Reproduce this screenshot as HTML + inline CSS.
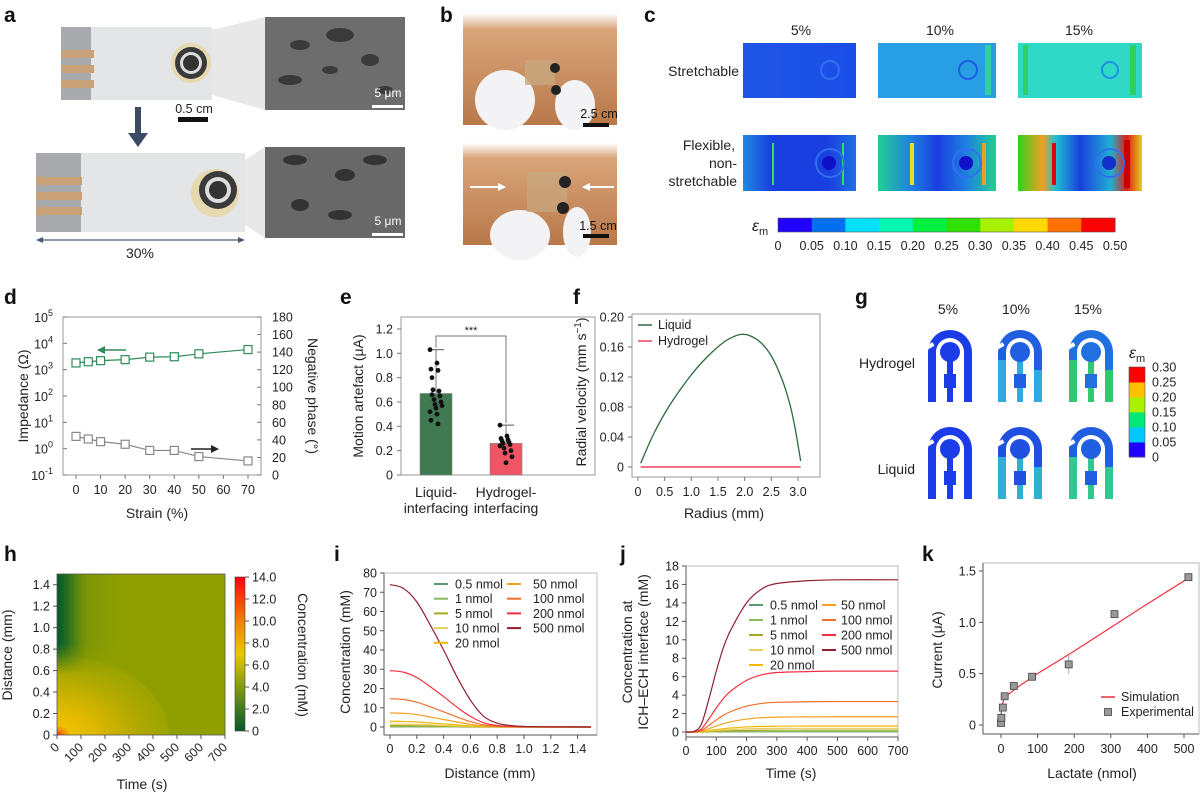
<!DOCTYPE html>
<html><head><meta charset="utf-8"><style>
html,body{margin:0;padding:0;background:#fff}
svg{display:block;font-family:"Liberation Sans",sans-serif}
.t{font-size:12.5px;fill:#222}
.at{font-size:14px;fill:#222}
.pl{font-size:21px;font-weight:bold;fill:#111}
</style></head><body>
<svg id="fig" width="1200" height="795" viewBox="0 0 1200 795" xmlns="http://www.w3.org/2000/svg">
<defs>
<linearGradient id="skin" x1="0" y1="0" x2="0" y2="1"><stop offset="0" stop-color="#fff"/><stop offset="0.15" stop-color="#d9a57a"/><stop offset="1" stop-color="#b8784a"/></linearGradient>
<linearGradient id="stretch1" x1="0" x2="1"><stop offset="0" stop-color="#1f55e6"/><stop offset="1" stop-color="#1a4ee8"/></linearGradient>
<linearGradient id="flex1" x1="0" x2="1"><stop offset="0" stop-color="#1f8ae0"/><stop offset="0.25" stop-color="#1a3fe0"/><stop offset="0.75" stop-color="#1a3fe0"/><stop offset="1" stop-color="#2070e0"/></linearGradient>
<linearGradient id="flex2" x1="0" x2="1"><stop offset="0" stop-color="#20d090"/><stop offset="0.28" stop-color="#2080e0"/><stop offset="0.5" stop-color="#1a3fe0"/><stop offset="0.75" stop-color="#2080e0"/><stop offset="1" stop-color="#20d090"/></linearGradient>
<linearGradient id="flex3" x1="0" x2="1"><stop offset="0" stop-color="#30d020"/><stop offset="0.2" stop-color="#f0a020"/><stop offset="0.3" stop-color="#20c0d0"/><stop offset="0.5" stop-color="#1a40e0"/><stop offset="0.75" stop-color="#20b0d0"/><stop offset="0.88" stop-color="#e02010"/><stop offset="1" stop-color="#e0d020"/></linearGradient>
<linearGradient id="hgreen" x1="0" x2="1"><stop offset="0" stop-color="#005a2a"/><stop offset="0.15" stop-color="#2a7020"/><stop offset="0.4" stop-color="#6e9008" stop-opacity="0.6"/><stop offset="1" stop-color="#8f9f00" stop-opacity="0"/></linearGradient>
<linearGradient id="hgreenv" x1="0" y1="0" x2="0" y2="1"><stop offset="0" stop-color="#fff" stop-opacity="1"/><stop offset="0.7" stop-color="#fff" stop-opacity="1"/><stop offset="1" stop-color="#fff" stop-opacity="0"/></linearGradient>
<mask id="hmask"><rect x="57" y="574" width="80" height="100" fill="url(#hgreenv)"/></mask>
<radialGradient id="hyellow" cx="0" cy="1" r="1"><stop offset="0" stop-color="#ff1010"/><stop offset="0.04" stop-color="#f07000"/><stop offset="0.12" stop-color="#f0c000"/><stop offset="0.35" stop-color="#dcb800"/><stop offset="0.65" stop-color="#b8ac00"/><stop offset="0.98" stop-color="#a8a800" stop-opacity="0.5"/><stop offset="1" stop-color="#9aa400" stop-opacity="0"/></radialGradient>
<linearGradient id="hbar" x1="0" y1="1" x2="0" y2="0"><stop offset="0" stop-color="#005a2a"/><stop offset="0.3" stop-color="#8a9e10"/><stop offset="0.5" stop-color="#e8c800"/><stop offset="0.72" stop-color="#f08000"/><stop offset="1" stop-color="#ff0010"/></linearGradient>
</defs>

<!-- panel a -->
<text class="pl" x="4" y="22">a</text>
<g>
<rect x="61" y="27" width="151" height="73" fill="#e3e5e7"/>
<rect x="61" y="27" width="30" height="73" fill="#a8aaad"/>
<rect x="61" y="50" width="33" height="8" fill="#c9a27a"/><rect x="61" y="65" width="33" height="8" fill="#c9a27a"/><rect x="61" y="80" width="33" height="8" fill="#c9a27a"/>
<circle cx="191" cy="63" r="20" fill="#e6d9b0"/><circle cx="191" cy="63" r="16" fill="#3a3a3a"/><circle cx="191" cy="63" r="11" fill="#ddd"/><circle cx="191" cy="63" r="8" fill="#333"/>
</g>
<polygon points="212,30 265,17 265,110 212,95" fill="#e8e8e8"/>
<rect x="265" y="17" width="140" height="93" fill="#6d6d6d"/>
<g fill="#3a3a3a"><ellipse cx="300" cy="45" rx="10" ry="5"/><ellipse cx="340" cy="35" rx="14" ry="7"/><ellipse cx="370" cy="60" rx="9" ry="6"/><ellipse cx="290" cy="80" rx="12" ry="5"/><ellipse cx="330" cy="70" rx="8" ry="4"/><ellipse cx="385" cy="90" rx="8" ry="4"/></g>
<text x="388" y="97" font-size="12" fill="#fff" text-anchor="middle">5 μm</text><rect x="372" y="105" width="31" height="3" fill="#fff"/>
<text x="194" y="113" class="t" text-anchor="middle">0.5 cm</text><rect x="178" y="117" width="30" height="5" fill="#111"/>
<g><rect x="135" y="107" width="6" height="28" fill="#3c4a63"/><polygon points="128,133 148,133 138,147" fill="#3c4a63"/></g>
<g>
<rect x="36" y="153" width="209" height="79" fill="#e3e5e7"/>
<rect x="36" y="153" width="45" height="79" fill="#a8aaad"/>
<rect x="36" y="177" width="46" height="8" fill="#c9a27a"/><rect x="36" y="192" width="46" height="8" fill="#c9a27a"/><rect x="36" y="207" width="46" height="8" fill="#c9a27a"/>
<circle cx="215" cy="193" r="24" fill="#e6d9b0"/><circle cx="218" cy="190" r="19" fill="#3a3a3a"/><circle cx="218" cy="190" r="13" fill="#ddd"/><circle cx="218" cy="190" r="9" fill="#333"/>
</g>
<polygon points="245,160 265,147 265,238 245,225" fill="#e8e8e8"/>
<rect x="265" y="147" width="140" height="91" fill="#686868"/>
<g fill="#333"><ellipse cx="295" cy="160" rx="12" ry="5"/><ellipse cx="345" cy="175" rx="10" ry="6"/><ellipse cx="375" cy="160" rx="12" ry="5"/><ellipse cx="300" cy="205" rx="9" ry="6"/><ellipse cx="340" cy="215" rx="12" ry="5"/></g>
<text x="388" y="225" font-size="12" fill="#fff" text-anchor="middle">5 μm</text><rect x="372" y="233" width="31" height="3" fill="#fff"/>
<g><line x1="40" y1="240" x2="241" y2="240" stroke="#4a5a78" stroke-width="1.2"/><polygon points="36,240 43,237 43,243" fill="#4a5a78"/><polygon points="245,240 238,237 238,243" fill="#4a5a78"/></g>
<text x="140" y="258" class="at" text-anchor="middle">30%</text>

<!-- panel b -->
<text class="pl" x="440" y="22">b</text>
<g>
<rect x="463" y="13" width="154" height="112" fill="url(#skin)"/>
<ellipse cx="505" cy="100" rx="30" ry="30" fill="#f3f3f5"/><ellipse cx="575" cy="105" rx="20" ry="25" fill="#f3f3f5"/>
<rect x="525" y="60" width="30" height="25" fill="#c8a880" opacity="0.8"/><circle cx="555" cy="68" r="5" fill="#222"/><circle cx="556" cy="90" r="5" fill="#222"/>
<text x="599" y="118" font-size="12.5" fill="#111" text-anchor="middle">2.5 cm</text><rect x="583" y="123" width="26" height="4" fill="#111"/>
</g>
<g>
<rect x="463" y="143" width="154" height="102" fill="url(#skin)"/>
<ellipse cx="520" cy="235" rx="30" ry="25" fill="#f3f3f5"/><ellipse cx="577" cy="232" rx="14" ry="25" fill="#f3f3f5"/>
<rect x="527" y="172" width="40" height="40" fill="#c8a880" opacity="0.7"/><circle cx="565" cy="182" r="6" fill="#222"/><circle cx="563" cy="208" r="6" fill="#222"/>
<line x1="470" y1="187" x2="500" y2="187" stroke="#fff" stroke-width="2"/><polygon points="506,187 498,183 498,191" fill="#fff"/>
<line x1="614" y1="187" x2="588" y2="187" stroke="#fff" stroke-width="2"/><polygon points="582,187 590,183 590,191" fill="#fff"/>
<text x="598" y="230" font-size="12.5" fill="#111" text-anchor="middle">1.5 cm</text><rect x="583" y="234" width="26" height="4" fill="#111"/>
</g>

<!-- panel c -->
<text class="pl" x="644" y="22">c</text>
<text class="at" x="801" y="35" text-anchor="middle">5%</text><text class="at" x="940" y="35" text-anchor="middle">10%</text><text class="at" x="1079" y="35" text-anchor="middle">15%</text>
<text class="at" x="739" y="76" text-anchor="end">Stretchable</text>
<text class="at" x="735" y="150" text-anchor="end">Flexible,</text><text class="at" x="737" y="168" text-anchor="end">non-</text><text class="at" x="737" y="186" text-anchor="end">stretchable</text>
<g><rect x="743" y="43" width="113" height="55" fill="url(#stretch1)"/><circle cx="830" cy="70" r="9" fill="none" stroke="#3070f0" stroke-width="2"/></g>
<g><rect x="878" y="43" width="118" height="55" fill="#30a8e8"/><rect x="878" y="43" width="118" height="55" fill="#1e90e0" opacity="0.4"/><circle cx="968" cy="70" r="9" fill="none" stroke="#1860e0" stroke-width="2"/><rect x="985" y="45" width="6" height="50" fill="#30d0a0"/></g>
<g><rect x="1018" y="43" width="124" height="55" fill="#30d8c8"/><rect x="1023" y="45" width="5" height="50" fill="#30d060"/><rect x="1130" y="45" width="6" height="50" fill="#30d060"/><circle cx="1110" cy="70" r="8" fill="none" stroke="#2090e0" stroke-width="2"/></g>
<g><rect x="743" y="135" width="113" height="56" fill="url(#flex1)"/><rect x="772" y="143" width="2" height="42" fill="#30e060"/><rect x="842" y="143" width="2" height="42" fill="#30e060"/><circle cx="830" cy="163" r="14" fill="none" stroke="#3070f0" stroke-width="2"/><circle cx="829" cy="163" r="7" fill="#1010c8"/></g>
<g><rect x="878" y="135" width="118" height="56" fill="url(#flex2)"/><rect x="910" y="143" width="4" height="42" fill="#e8e020"/><rect x="982" y="143" width="4" height="42" fill="#e8a020"/><circle cx="967" cy="163" r="14" fill="none" stroke="#3070f0" stroke-width="2"/><circle cx="966" cy="163" r="7" fill="#1010c8"/></g>
<g><rect x="1018" y="135" width="124" height="56" fill="url(#flex3)"/><rect x="1052" y="143" width="4" height="42" fill="#e00010"/><rect x="1124" y="140" width="6" height="48" fill="#c80000"/><circle cx="1110" cy="163" r="14" fill="none" stroke="#3070f0" stroke-width="2"/><circle cx="1109" cy="163" r="7" fill="#1030c8"/></g>
<g id="cbarC"></g>
<text x="752" y="231" font-size="16" fill="#222" font-style="italic">ε<tspan font-size="11" dy="4" font-style="normal">m</tspan></text>

<!-- panel d -->
<text class="pl" x="4" y="304">d</text>
<g id="pd"></g>
<text class="at" x="157" y="518" text-anchor="middle">Strain (%)</text>
<text class="at" transform="translate(28,396) rotate(-90)" text-anchor="middle">Impedance (Ω)</text>
<text class="at" transform="translate(308,396) rotate(90)" text-anchor="middle">Negative phase (°)</text>

<!-- panel e -->
<text class="pl" x="340" y="304">e</text>
<g id="pe"></g>
<text class="at" transform="translate(363,396) rotate(-90)" text-anchor="middle">Motion artefact (μA)</text>
<text class="at" x="436" y="497" text-anchor="middle">Liquid-</text><text class="at" x="436" y="513" text-anchor="middle">interfacing</text>
<text class="at" x="506" y="497" text-anchor="middle">Hydrogel-</text><text class="at" x="506" y="513" text-anchor="middle">interfacing</text>

<!-- panel f -->
<text class="pl" x="573" y="304">f</text>
<g id="pf"></g>
<text class="at" transform="translate(586,392) rotate(-90)" text-anchor="middle">Radial velocity (mm s<tspan font-size="10" dy="-5">−1</tspan><tspan dy="5">)</tspan></text>
<text class="at" x="724" y="518" text-anchor="middle">Radius (mm)</text>

<!-- panel g -->
<text class="pl" x="855" y="304">g</text>
<text class="at" x="948" y="314" text-anchor="middle">5%</text><text class="at" x="1016" y="314" text-anchor="middle">10%</text><text class="at" x="1088" y="314" text-anchor="middle">15%</text>
<text class="at" x="915" y="368" text-anchor="end">Hydrogel</text><text class="at" x="915" y="474" text-anchor="end">Liquid</text>
<g id="pg"></g>
<text x="1129" y="358" font-size="16" fill="#222" font-style="italic">ε<tspan font-size="11" dy="4" font-style="normal">m</tspan></text>

<!-- panel h -->
<text class="pl" x="4" y="561">h</text>
<g>
<rect x="57" y="574" width="168" height="161" fill="#8f9f00"/>
<rect x="57" y="655" width="113" height="80" fill="url(#hyellow)"/>
<rect x="57" y="574" width="75" height="100" fill="url(#hgreen)" mask="url(#hmask)"/>
<rect x="57" y="574" width="168" height="161" fill="none" stroke="#555" stroke-width="0.8"/>
</g>
<rect x="235" y="577" width="10" height="154" fill="url(#hbar)" stroke="#444" stroke-width="0.6"/>
<g id="ph"></g>
<text class="at" transform="translate(12,655) rotate(-90)" text-anchor="middle">Distance (mm)</text>
<text class="at" transform="translate(298,655) rotate(90)" text-anchor="middle">Concentration (mM)</text>
<text class="at" x="142" y="789" text-anchor="middle">Time (s)</text>

<!-- panel i -->
<text class="pl" x="334" y="561">i</text>
<g id="pi"></g>
<text class="at" transform="translate(350,652) rotate(-90)" text-anchor="middle">Concentration (mM)</text>
<text class="at" x="490" y="778" text-anchor="middle">Distance (mm)</text>

<!-- panel j -->
<text class="pl" x="620" y="561">j</text>
<g id="pj"></g>
<text class="at" transform="translate(632,652) rotate(-90)" text-anchor="middle">Concentration at</text>
<text class="at" transform="translate(648,652) rotate(-90)" text-anchor="middle">ICH–ECH interface (mM)</text>
<text class="at" x="791" y="778" text-anchor="middle">Time (s)</text>

<!-- panel k -->
<text class="pl" x="922" y="561">k</text>
<g id="pk"></g>
<text class="at" transform="translate(942,650) rotate(-90)" text-anchor="middle">Current (μA)</text>
<text class="at" x="1092" y="778" text-anchor="middle">Lactate (nmol)</text>
</svg>
<script>
const NS="http://www.w3.org/2000/svg";
function mk(tag,attrs,parent,txt){const e=document.createElementNS(NS,tag);for(const k in attrs)e.setAttribute(k,attrs[k]);if(txt!==undefined)e.textContent=txt;parent.appendChild(e);return e;}
function smooth(pts){let d="M"+pts[0][0]+","+pts[0][1];for(let i=0;i<pts.length-1;i++){const p0=pts[i-1]||pts[i],p1=pts[i],p2=pts[i+1],p3=pts[i+2]||p2;d+=" C"+(p1[0]+(p2[0]-p0[0])/6)+","+(p1[1]+(p2[1]-p0[1])/6)+" "+(p2[0]-(p3[0]-p1[0])/6)+","+(p2[1]-(p3[1]-p1[1])/6)+" "+p2[0]+","+p2[1];}return d;}

// ---- data ----
const cbarColors=["#2000ff","#0070f0","#00e0f8","#00f8b0","#00f040","#30e000","#a8f000","#ffd800","#ff7000","#ff0000"];
const cbarTicks=["0","0.05","0.10","0.15","0.20","0.25","0.30","0.35","0.40","0.45","0.50"];
const dStrain=[0,5,10,20,30,40,50,70];
const dImpedance=[1800,2000,2200,2400,3000,3100,4000,5800];
const dPhase=[44,41,38,35,28,28,21,16];
const eGroups=["Liquid-interfacing","Hydrogel-interfacing"];
const eMeans=[0.67,0.26];
const eErrTop=[1.03,0.41];
const eLiquidPts=[1.03,0.92,0.87,0.86,0.80,0.69,0.70,0.65,0.62,0.60,0.58,0.57,0.55,0.52,0.50,0.45,0.42,0.66];
const eHydroPts=[0.41,0.32,0.30,0.29,0.28,0.27,0.26,0.25,0.22,0.20,0.18,0.15,0.10,0.24];
const fRadius=[0.05,0.3,0.6,1.0,1.3,1.6,1.8,1.95,2.1,2.3,2.5,2.7,2.85,2.95,3.05];
const fLiquid=[0.005,0.045,0.083,0.123,0.147,0.166,0.174,0.177,0.175,0.166,0.148,0.117,0.083,0.05,0.008];
const fHydrogel=[0,0,0,0,0,0,0,0,0,0,0,0,0,0,0];
const gRowLabels=["Hydrogel","Liquid"];
const gColLabels=["5%","10%","15%"];
const gBarTicks=["0","0.05","0.10","0.15","0.20","0.25","0.30"];
const hTicksY=[0,0.2,0.4,0.6,0.8,1.0,1.2,1.4];
const hTicksX=[0,100,200,300,400,500,600,700];
const hCbarTicks=[0,2,4,6,8,10,12,14];
const iLabels=["0.5 nmol","1 nmol","5 nmol","10 nmol","20 nmol","50 nmol","100 nmol","200 nmol","500 nmol"];
const seriesColors=["#5b9a70","#8ab860","#a8a820","#e8d060","#f0b800","#f5a020","#f07030","#f03040","#902030"];
const iDistance=[0,0.1,0.2,0.3,0.4,0.5,0.6,0.7,0.8,0.9,1.0,1.2,1.5];
const iC05=[0.07,0.07,0.06,0.05,0.04,0.02,0.01,0,0,0,0,0,0];
const iC1=[0.15,0.15,0.13,0.11,0.08,0.05,0.03,0.01,0,0,0,0,0];
const iC5=[0.7,0.7,0.6,0.5,0.4,0.25,0.13,0.05,0,0,0,0,0];
const iC10=[1.5,1.5,1.3,1.1,0.8,0.5,0.3,0.1,0,0,0,0,0];
const iC20=[3,2.9,2.6,2.1,1.6,1.1,0.6,0.2,0.1,0,0,0,0];
const iC50=[7.3,7.1,6.4,5.2,3.9,2.6,1.4,0.5,0.2,0.1,0,0,0];
const iC100=[14.7,14.3,12.9,10.5,7.9,5.2,2.8,1.1,0.4,0.2,0.1,0,0];
const iC200=[29.3,28.5,25.7,21,15.8,10.3,5.5,2.2,0.8,0.3,0.1,0,0];
const iC500=[74,72,65,53,40,26,14,5.5,2,0.8,0.3,0.1,0];
const jTime=[0,25,50,75,100,125,150,200,250,300,400,500,700];
const jC05=[0,0,0,0,0.01,0.01,0.01,0.02,0.02,0.02,0.02,0.02,0.02];
const jC1=[0,0,0,0.01,0.02,0.03,0.03,0.04,0.05,0.05,0.05,0.05,0.05];
const jC5=[0,0,0.01,0.04,0.08,0.11,0.14,0.17,0.19,0.195,0.2,0.2,0.2];
const jC10=[0,0,0.02,0.08,0.16,0.22,0.27,0.34,0.38,0.39,0.4,0.4,0.4];
const jC20=[0,0,0.03,0.14,0.26,0.36,0.44,0.55,0.61,0.63,0.65,0.65,0.65];
const jC50=[0,0,0.08,0.35,0.66,0.92,1.12,1.4,1.55,1.61,1.64,1.65,1.65];
const jC100=[0,0.01,0.16,0.7,1.3,1.85,2.25,2.8,3.1,3.22,3.28,3.3,3.3];
const jC200=[0,0.02,0.3,1.4,2.6,3.7,4.5,5.6,6.2,6.45,6.55,6.6,6.6];
const jC500=[0,0.05,0.8,3.5,6.6,9.3,11.2,14,15.5,16.1,16.4,16.5,16.5];
const kLactate=[0,1,5,10,35,85,185,310,512];
const kCurrent=[0.02,0.07,0.17,0.28,0.38,0.47,0.59,1.08,1.44];
const kErr=[0.01,0.01,0.01,0.02,0.02,0.02,0.09,0.02,0.02];
const kSimX=[0,2,5,10,50,100,200,300,400,512];
const kSimY=[0.08,0.16,0.22,0.27,0.38,0.5,0.72,0.95,1.18,1.43];

// ---- colorbar c ----
(function(){const g=document.getElementById("cbarC");const x0=778,w=337/cbarColors.length;
cbarColors.forEach((c,i)=>{const r=mk("rect",{x:x0+i*w,y:218,width:w+0.5,height:14,fill:c},g);

});
mk("rect",{x:x0,y:218,width:337,height:14,fill:"none",stroke:"#555","stroke-width":0.6},g);
cbarTicks.forEach((t,i)=>{const e=mk("text",{x:x0+i*w,y:250,"text-anchor":"middle",class:"t"},g,t);

});})();

// ---- panel d ----
(function(){const g=document.getElementById("pd");
const X=s=>76+s/70*172,YL=v=>475-(Math.log10(v)+1)/6*158,YR=v=>475-v/180*158;
mk("rect",{x:63,y:317,width:198,height:158,fill:"none",stroke:"#999"},g);
for(let p=-1;p<=5;p++){const y=475-(p+1)/6*158;mk("line",{x1:63,x2:67,y1:y,y2:y,stroke:"#777"},g);
const t=mk("text",{x:53,y:y+5,class:"t","text-anchor":"end"},g,"10");mk("tspan",{dy:-6,"font-size":9},t,String(p));}
for(let v=0;v<=180;v+=20){const y=YR(v);mk("line",{x1:257,x2:261,y1:y,y2:y,stroke:"#777"},g);mk("text",{x:272,y:y+4.5,class:"t"},g,String(v));}
for(let s=0;s<=70;s+=10){mk("line",{x1:X(s),x2:X(s),y1:475,y2:479,stroke:"#777"},g);mk("text",{x:X(s),y:494,class:"t","text-anchor":"middle"},g,String(s));}
const l1=mk("polyline",{points:dStrain.map((s,i)=>X(s)+","+YL(dImpedance[i])).join(" "),fill:"none",stroke:"#2e8b57","stroke-width":1.2},g);


const l2=mk("polyline",{points:dStrain.map((s,i)=>X(s)+","+YR(dPhase[i])).join(" "),fill:"none",stroke:"#888","stroke-width":1.2},g);


dStrain.forEach((s,i)=>{const a=mk("rect",{x:X(s)-4,y:YL(dImpedance[i])-4,width:8,height:8,fill:"#fff",stroke:"#2e8b57","stroke-width":1.2},g);


const b=mk("rect",{x:X(s)-4,y:YR(dPhase[i])-4,width:8,height:8,fill:"#fff",stroke:"#888","stroke-width":1.2},g);

});
mk("line",{x1:126,x2:103,y1:350,y2:350,stroke:"#2e8b57","stroke-width":1.5},g);mk("polygon",{points:"97,350 105,346 105,354",fill:"#2e8b57"},g);
mk("line",{x1:191,x2:213,y1:449,y2:449,stroke:"#222","stroke-width":1.5},g);mk("polygon",{points:"219,449 211,445 211,453",fill:"#222"},g);})();

// ---- panel e ----
(function(){const g=document.getElementById("pe");const Y=v=>475-v/1.2*146;const cx=[436,506];
mk("rect",{x:401,y:317,width:194,height:158,fill:"none",stroke:"#999"},g);
for(let i=0;i<=6;i++){const v=i*0.2,y=Y(v);mk("line",{x1:397,x2:401,y1:y,y2:y,stroke:"#777"},g);mk("text",{x:393,y:y+4.5,class:"t","text-anchor":"end"},g,i===0?"0":v.toFixed(1));}
const cols=["#3f7a52","#f05565"];
eMeans.forEach((m,i)=>{mk("line",{x1:cx[i],x2:cx[i],y1:Y(eErrTop[i]),y2:Y(m),stroke:"#777"},g);mk("line",{x1:cx[i]-8,x2:cx[i]+8,y1:Y(eErrTop[i]),y2:Y(eErrTop[i]),stroke:"#555"},g);
const b=mk("rect",{x:cx[i]-16,y:Y(m),width:32,height:475-Y(m),fill:cols[i],stroke:"#888","stroke-width":0.6},g);

});
[eLiquidPts,eHydroPts].forEach((arr,gi)=>arr.forEach((v,j)=>{const c=mk("circle",{cx:cx[gi]+((j*7)%13-6),cy:Y(v),r:2.4,fill:"#111"},g);

}));
const yb=336;mk("polyline",{points:cx[0]+","+(Y(eErrTop[0])-2)+" "+cx[0]+","+yb+" "+cx[1]+","+yb+" "+cx[1]+","+(Y(eErrTop[1])-2),fill:"none",stroke:"#777"},g);
mk("text",{x:471,y:334,"font-size":11,"text-anchor":"middle",fill:"#222"},g,"***");})();

// ---- panel f ----
(function(){const g=document.getElementById("pf");const X=r=>638+r/3*160,Y=v=>467-v/0.2*150;
mk("rect",{x:632,y:314,width:188,height:163,fill:"none",stroke:"#999"},g);
[0,0.04,0.08,0.12,0.16,0.2].forEach(v=>{const y=Y(v);mk("line",{x1:628,x2:632,y1:y,y2:y,stroke:"#777"},g);mk("text",{x:624,y:y+4.5,class:"t","text-anchor":"end"},g,v===0?"0":v.toFixed(2));});
for(let i=0;i<=6;i++){const r=i*0.5;mk("line",{x1:X(r),x2:X(r),y1:477,y2:481,stroke:"#777"},g);mk("text",{x:X(r),y:496,class:"t","text-anchor":"middle"},g,i===0?"0":r.toFixed(1));}
const a=mk("path",{d:smooth(fRadius.map((r,i)=>[X(r),Y(fLiquid[i])])),fill:"none",stroke:"#2a6b3c","stroke-width":1.3},g);


const b=mk("path",{d:smooth(fRadius.map((r,i)=>[X(r),Y(fHydrogel[i])])),fill:"none",stroke:"#f04060","stroke-width":1.5},g);


mk("line",{x1:638,x2:652,y1:325,y2:325,stroke:"#2a6b3c","stroke-width":1.5},g);mk("text",{x:658,y:329,class:"t"},g,"Liquid");
mk("line",{x1:638,x2:652,y1:341,y2:341,stroke:"#f04060","stroke-width":1.5},g);mk("text",{x:658,y:345,class:"t"},g,"Hydrogel");})();

// ---- panel g ----
(function(){const g=document.getElementById("pg");const cxs=[950,1020,1091],ys=[330,427];
const base=[["#1c3ce8","#30a8e0","#30c870"],["#1c3ce8","#30b0d0","#30c890"]];const top=[["#1c3ce8","#2060e0","#2070e0"],["#1c3ce8","#2050e0","#2060e0"]];
ys.forEach((y0,ri)=>cxs.forEach((cx,ci)=>{const grp=mk("g",{},g);


const c=base[ri][ci],t=top[ri][ci];
mk("rect",{x:cx-22,y:y0+28,width:8,height:44,fill:c},grp);mk("rect",{x:cx+14,y:y0+28,width:8,height:44,fill:c},grp);
mk("rect",{x:cx-3,y:y0+30,width:6,height:42,fill:c},grp);mk("rect",{x:cx-6,y:y0+44,width:12,height:14,fill:t},grp);
mk("path",{d:`M${cx-22},${y0+30} L${cx-22},${y0+22} A22 22 0 0 1 ${cx+22},${y0+22} L${cx+22},${y0+40} L${cx+14},${y0+40} L${cx+14},${y0+22} A14 14 0 0 0 ${cx-14},${y0+22} L${cx-14},${y0+30} Z`,fill:t},grp);
mk("circle",{cx:cx,cy:y0+22,r:10,fill:t},grp);mk("rect",{x:cx-24,y:y0+14,width:8,height:4,fill:"#fff",transform:`rotate(-30 ${cx-20} ${y0+16})`},grp);}));
const h=90/6;
for(let i=0;i<6;i++){const r=mk("rect",{x:1129,y:457-(i+1)*h,width:16,height:h+0.5,fill:["#2000ff","#00c8ff","#00e878","#a8f000","#ffc000","#ff0000"][i]},g);

}
mk("rect",{x:1129,y:367,width:16,height:90,fill:"none",stroke:"#555","stroke-width":0.6},g);
gBarTicks.forEach((t,i)=>mk("text",{x:1152,y:457-i*h+4.5,class:"t"},g,t));})();

// ---- panel h axes ----
(function(){const g=document.getElementById("ph");const X=t=>57+t/700*168,Y=d=>735-d/1.5*161;
hTicksY.forEach(d=>{const y=Y(d);mk("line",{x1:53,x2:57,y1:y,y2:y,stroke:"#555"},g);mk("text",{x:50,y:y+4.5,class:"t","text-anchor":"end"},g,d===0?"0":d.toFixed(1));});
hTicksX.forEach(t=>{const x=X(t);mk("line",{x1:x,x2:x,y1:735,y2:739,stroke:"#555"},g);mk("text",{x:x+3,y:748,class:"t","text-anchor":"end",transform:`rotate(-45 ${x+3} 748)`},g,String(t));});
hCbarTicks.forEach(v=>{const y=731-v/14*154;mk("line",{x1:245,x2:249,y1:y,y2:y,stroke:"#555"},g);mk("text",{x:252,y:y+4.5,class:"t"},g,v===0?"0":v.toFixed(1));});})();

// ---- panel i ----
(function(){const g=document.getElementById("pi");const X=d=>390+d/1.5*201,Y=v=>727-v/80*154;
mk("rect",{x:384,y:573,width:213,height:162,fill:"none",stroke:"#bbb"},g);
mk("line",{x1:384,x2:384,y1:573,y2:735,stroke:"#555"},g);mk("line",{x1:384,x2:597,y1:735,y2:735,stroke:"#555"},g);
for(let v=0;v<=80;v+=10){const y=Y(v);mk("line",{x1:380,x2:384,y1:y,y2:y,stroke:"#555"},g);mk("text",{x:377,y:y+4.5,class:"t","text-anchor":"end"},g,String(v));}
for(let i=0;i<=7;i++){const d=i*0.2;mk("line",{x1:X(d),x2:X(d),y1:735,y2:739,stroke:"#555"},g);mk("text",{x:X(d),y:753,class:"t","text-anchor":"middle"},g,i===0?"0":d.toFixed(1));}
const S=[iC05,iC1,iC5,iC10,iC20,iC50,iC100,iC200,iC500];
S.forEach((arr,k)=>{const p=mk("path",{d:smooth(iDistance.map((d,i)=>[X(d),Y(arr[i])])),fill:"none",stroke:seriesColors[k],"stroke-width":1.2},g);

});
iLabels.forEach((l,k)=>{const col=k<5?0:1,row=k<5?k:k-5;const lx=col?507:434,tx=col?533:455,y=584+row*14.7;
mk("line",{x1:lx,x2:lx+14,y1:y,y2:y,stroke:seriesColors[k],"stroke-width":2},g);mk("text",{x:tx,y:y+4.5,class:"t"},g,l);});})();

// ---- panel j ----
(function(){const g=document.getElementById("pj");const X=t=>686+t/700*212,Y=v=>732-v/18*166;
mk("rect",{x:686,y:566,width:212,height:171,fill:"none",stroke:"#bbb"},g);
mk("line",{x1:686,x2:686,y1:566,y2:737,stroke:"#555"},g);mk("line",{x1:686,x2:898,y1:737,y2:737,stroke:"#555"},g);
for(let v=0;v<=18;v+=2){const y=Y(v);mk("line",{x1:682,x2:686,y1:y,y2:y,stroke:"#555"},g);mk("text",{x:679,y:y+4.5,class:"t","text-anchor":"end"},g,String(v));}
for(let t=0;t<=700;t+=100){mk("line",{x1:X(t),x2:X(t),y1:737,y2:741,stroke:"#555"},g);mk("text",{x:X(t),y:755,class:"t","text-anchor":"middle"},g,String(t));}
const S=[jC05,jC1,jC5,jC10,jC20,jC50,jC100,jC200,jC500];
S.forEach((arr,k)=>{const p=mk("path",{d:smooth(jTime.map((t,i)=>[X(t),Y(arr[i])])),fill:"none",stroke:seriesColors[k],"stroke-width":1.2},g);

});
iLabels.forEach((l,k)=>{const col=k<5?0:1,row=k<5?k:k-5;const lx=col?822:749,tx=col?841:770,y=605+row*15;
mk("line",{x1:lx,x2:lx+14,y1:y,y2:y,stroke:seriesColors[k],"stroke-width":2},g);mk("text",{x:tx,y:y+4.5,class:"t"},g,l);});})();

// ---- panel k ----
(function(){const g=document.getElementById("pk");const X=v=>1001+v/500*183,Y=v=>725-v/1.5*154;
mk("rect",{x:983,y:563,width:216,height:171,fill:"none",stroke:"#bbb"},g);
mk("line",{x1:983,x2:983,y1:563,y2:734,stroke:"#555"},g);mk("line",{x1:983,x2:1199,y1:734,y2:734,stroke:"#555"},g);
[0,0.5,1.0,1.5].forEach(v=>{const y=Y(v);mk("line",{x1:979,x2:983,y1:y,y2:y,stroke:"#555"},g);mk("text",{x:976,y:y+4.5,class:"t","text-anchor":"end"},g,v===0?"0":v.toFixed(1));});
for(let v=0;v<=500;v+=100){mk("line",{x1:X(v),x2:X(v),y1:734,y2:738,stroke:"#555"},g);mk("text",{x:X(v),y:753,class:"t","text-anchor":"middle"},g,String(v));}
const sim=mk("polyline",{points:kSimX.map((x,i)=>X(x)+","+Y(kSimY[i])).join(" "),fill:"none",stroke:"#f03040","stroke-width":1.2},g);


kLactate.forEach((x,i)=>{mk("line",{x1:X(x),x2:X(x),y1:Y(kCurrent[i]+kErr[i]),y2:Y(kCurrent[i]-kErr[i]),stroke:"#aaa"},g);
const r=mk("rect",{x:X(x)-3.5,y:Y(kCurrent[i])-3.5,width:7,height:7,fill:"#999",stroke:"#444","stroke-width":0.8},g);

});
mk("line",{x1:1101,x2:1115,y1:697,y2:697,stroke:"#f03040","stroke-width":1.5},g);mk("text",{x:1121,y:701,class:"t"},g,"Simulation");
mk("rect",{x:1104.5,y:708.5,width:7,height:7,fill:"#999",stroke:"#444","stroke-width":0.8},g);mk("text",{x:1121,y:716,class:"t"},g,"Experimental");})();
</script>
</body></html>
